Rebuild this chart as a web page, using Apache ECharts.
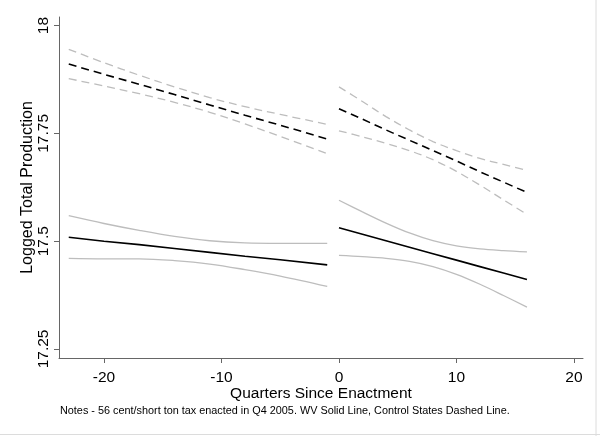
<!DOCTYPE html>
<html>
<head>
<meta charset="utf-8">
<script src="https://cdn.jsdelivr.net/npm/echarts@6/dist/echarts.min.js"></script>
<style>
html,body{margin:0;padding:0;background:#fff;}
#chart{width:600px;height:436px;}
</style>
</head>
<body>
<div id="chart"></div>
<script>
// Quarters since enactment
var xLeft = [-23, -20, -17, -14, -11, -8, -5, -1];
var xRight = [0, 2, 4, 6, 8, 10, 12, 14, 16];

// WV (solid) fitted line and confidence band
var wvLeftFit = [17.509, 17.500, 17.492, 17.483, 17.474, 17.465, 17.457, 17.445];
var wvLeftHi  = [17.559, 17.541, 17.525, 17.511, 17.501, 17.496, 17.495, 17.495];
var wvLeftLo  = [17.460, 17.459, 17.459, 17.455, 17.447, 17.434, 17.419, 17.395];
var wvRightFit = [17.531, 17.516, 17.501, 17.486, 17.471, 17.456, 17.441, 17.426, 17.411];
var wvRightHi  = [17.595, 17.568, 17.542, 17.519, 17.501, 17.489, 17.482, 17.478, 17.475];
var wvRightLo  = [17.467, 17.464, 17.460, 17.453, 17.441, 17.423, 17.400, 17.374, 17.347];

// Control states (dashed) fitted line and confidence band
var ctLeftFit = [17.911, 17.887, 17.864, 17.840, 17.816, 17.792, 17.769, 17.737];
var ctLeftHi  = [17.945, 17.914, 17.885, 17.858, 17.833, 17.812, 17.794, 17.771];
var ctLeftLo  = [17.877, 17.860, 17.842, 17.822, 17.799, 17.772, 17.743, 17.703];
var ctRightFit = [17.807, 17.783, 17.758, 17.734, 17.710, 17.686, 17.661, 17.637, 17.613];
var ctRightHi  = [17.858, 17.824, 17.789, 17.758, 17.731, 17.710, 17.692, 17.678, 17.664];
var ctRightLo  = [17.756, 17.742, 17.727, 17.710, 17.689, 17.662, 17.630, 17.596, 17.562];

var xTicks = [-20, -10, 0, 10, 20];
var yTicks = [17.25, 17.5, 17.75, 18];

var yTitle = 'Logged Total Production';
var xTitle = 'Quarters Since Enactment';
var notes = 'Notes - 56 cent/short ton tax enacted in Q4 2005. WV Solid Line, Control States Dashed Line.';

function pairs(xs, ys) { return xs.map(function (x, i) { return [x, ys[i]]; }); }

var FONT = 'Liberation Sans';
var GRAY = '#bdbdbd';
var BLACK = '#000000';

function band(xs, ys, dashed) {
  return {
    type: 'line', data: pairs(xs, ys), smooth: 0.35, symbol: 'none', silent: true,
    lineStyle: { color: GRAY, width: 1.3, type: dashed ? [8, 5] : 'solid' }, z: 2
  };
}
function fit(xs, ys, dashed) {
  return {
    type: 'line', data: pairs(xs, ys), symbol: 'none', silent: true,
    lineStyle: { color: BLACK, width: 1.6, type: dashed ? [8, 5] : 'solid' }, z: 3
  };
}

var chart = echarts.init(document.getElementById('chart'), null, { renderer: 'canvas' });
chart.setOption({
  animation: false,
  backgroundColor: '#ffffff',
  grid: { left: 59, right: 17, top: 17, bottom: 78, containLabel: false },
  xAxis: {
    type: 'value', min: -23.83, max: 20.77,
    name: xTitle, nameLocation: 'middle', nameGap: 27.5, nameMoveOverlap: false,
    nameTextStyle: { fontFamily: FONT, fontSize: 15.5, color: '#000' },
    axisLine: { show: true, onZero: false, lineStyle: { color: '#666', width: 1 } },
    axisTick: { show: true, length: 5, lineStyle: { color: '#666' }, customValues: xTicks },
    axisLabel: { fontFamily: FONT, fontSize: 15.5, color: '#000', margin: 12, customValues: xTicks },
    splitLine: { show: false }
  },
  yAxis: {
    type: 'value', min: 17.229, max: 18.02,
    name: yTitle, nameLocation: 'middle', nameGap: 23, nameMoveOverlap: false,
    nameTextStyle: { fontFamily: FONT, fontSize: 16, color: '#000' },
    axisLine: { show: true, onZero: false, lineStyle: { color: '#666', width: 1 } },
    axisTick: { show: true, length: 5, lineStyle: { color: '#666' }, customValues: yTicks },
    axisLabel: { fontFamily: FONT, fontSize: 15.5, color: '#000', margin: 7, rotate: 90, customValues: yTicks },
    splitLine: { show: false }
  },
  series: [
    band(xLeft, wvLeftHi, false), band(xLeft, wvLeftLo, false),
    band(xRight, wvRightHi, false), band(xRight, wvRightLo, false),
    band(xLeft, ctLeftHi, true), band(xLeft, ctLeftLo, true),
    band(xRight, ctRightHi, true), band(xRight, ctRightLo, true),
    fit(xLeft, wvLeftFit, false), fit(xRight, wvRightFit, false),
    fit(xLeft, ctLeftFit, true), fit(xRight, ctRightFit, true)
  ],
  graphic: [
    { type: 'text', left: 60, top: 405, style: { text: notes, fontFamily: FONT, fontSize: 10.85, fill: '#000' } },
    { type: 'line', shape: { x1: 596, y1: 0, x2: 596, y2: 436 }, style: { stroke: '#dcdcdc', lineWidth: 1 } },
    { type: 'line', shape: { x1: 0, y1: 434.5, x2: 600, y2: 434.5 }, style: { stroke: '#dcdcdc', lineWidth: 1 } }
  ]
});
</script>
</body>
</html>
